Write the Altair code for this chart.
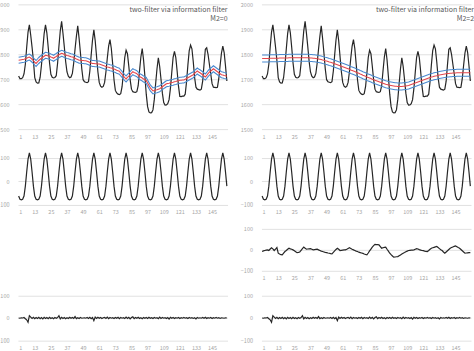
import altair as alt
import pandas as pd

# ---------------- data ----------------
x_labels = [1, 13, 25, 37, 49, 61, 73, 85, 97, 109, 121, 133, 145]
t = list(range(1, 157))

observed = [
    1713, 1702, 1702, 1706, 1721, 1760, 1828, 1889, 1918, 1876, 1828, 1775,
    1706, 1689, 1684, 1685, 1707, 1757, 1822, 1883, 1918, 1886, 1829, 1766,
    1720, 1708, 1705, 1707, 1714, 1764, 1832, 1894, 1932, 1884, 1830, 1771,
    1729, 1712, 1706, 1709, 1723, 1765, 1821, 1872, 1914, 1864, 1806, 1742,
    1698, 1690, 1688, 1686, 1690, 1732, 1797, 1857, 1898, 1854, 1791, 1730,
    1687, 1672, 1668, 1671, 1687, 1730, 1784, 1833, 1859, 1823, 1762, 1698,
    1655, 1645, 1640, 1638, 1642, 1670, 1725, 1787, 1816, 1802, 1753, 1698,
    1660, 1650, 1648, 1647, 1650, 1674, 1734, 1789, 1823, 1777, 1711, 1640,
    1590, 1569, 1565, 1566, 1577, 1619, 1683, 1742, 1786, 1751, 1699, 1644,
    1606, 1596, 1597, 1602, 1618, 1663, 1728, 1788, 1812, 1787, 1732, 1672,
    1631, 1630, 1632, 1632, 1640, 1690, 1757, 1815, 1837, 1822, 1770, 1707,
    1668, 1660, 1658, 1656, 1660, 1692, 1759, 1820, 1826, 1800, 1760, 1722,
    1682, 1668, 1667, 1666, 1668, 1702, 1756, 1805, 1833, 1807, 1753, 1693,
]

seasonal = [
    -62, -76, -78, -76, -62, -20, 40, 95, 122, 95, 40, -20,
    -62, -76, -78, -76, -62, -20, 40, 95, 122, 95, 40, -20,
    -62, -76, -78, -76, -62, -20, 40, 95, 122, 95, 40, -20,
    -62, -76, -78, -76, -62, -20, 40, 95, 122, 95, 40, -20,
    -62, -76, -78, -76, -62, -20, 40, 95, 122, 95, 40, -20,
    -62, -76, -78, -76, -62, -20, 40, 95, 122, 95, 40, -20,
    -62, -76, -78, -76, -62, -20, 40, 95, 122, 95, 40, -20,
    -62, -76, -78, -76, -62, -20, 40, 95, 122, 95, 40, -20,
    -62, -76, -78, -76, -62, -20, 40, 95, 122, 95, 40, -20,
    -62, -76, -78, -76, -62, -20, 40, 95, 122, 95, 40, -20,
    -62, -76, -78, -76, -62, -20, 40, 95, 122, 95, 40, -20,
    -62, -76, -78, -76, -62, -20, 40, 95, 122, 95, 40, -20,
    -62, -76, -78, -76, -62, -20, 40, 95, 122, 95, 40, -20,
]

trend_m2_0 = [
    1776, 1777, 1778, 1779, 1780, 1782, 1784, 1787, 1789, 1785, 1780, 1774,
    1768, 1763, 1769, 1775, 1780, 1784, 1788, 1792, 1796, 1795, 1793, 1792,
    1789, 1787, 1784, 1788, 1791, 1795, 1798, 1801, 1804, 1802, 1799, 1797,
    1795, 1794, 1792, 1790, 1789, 1787, 1784, 1781, 1779, 1776, 1776, 1775,
    1775, 1774, 1774, 1772, 1770, 1767, 1765, 1763, 1763, 1762, 1762, 1761,
    1761, 1759, 1757, 1755, 1753, 1751, 1749, 1748, 1746, 1745, 1743, 1741,
    1739, 1736, 1734, 1732, 1725, 1719, 1712, 1706, 1701, 1707, 1712, 1718,
    1724, 1730, 1727, 1725, 1722, 1716, 1711, 1708, 1705, 1701, 1698, 1695,
    1685, 1675, 1665, 1659, 1653, 1655, 1657, 1658, 1660, 1662, 1666, 1670,
    1674, 1678, 1682, 1683, 1684, 1686, 1687, 1688, 1690, 1691, 1693, 1694,
    1696, 1696, 1697, 1697, 1700, 1703, 1706, 1709, 1712, 1715, 1718, 1723,
    1728, 1733, 1729, 1726, 1722, 1718, 1713, 1709, 1715, 1722, 1728, 1733,
    1737, 1742, 1738, 1734, 1730, 1726, 1722, 1718, 1717, 1715, 1714, 1712,
]
band_m2_0 = 12

trend_m2_2 = [
    1783, 1783, 1783, 1783, 1783, 1783, 1784, 1784, 1784, 1784, 1784, 1784,
    1784, 1785, 1785, 1785, 1785, 1785, 1785, 1785, 1786, 1786, 1786, 1786,
    1786, 1786, 1786, 1786, 1786, 1786, 1786, 1786, 1786, 1786, 1786, 1786,
    1785, 1785, 1784, 1784, 1783, 1782, 1781, 1780, 1779, 1777, 1776, 1774,
    1773, 1771, 1769, 1768, 1766, 1764, 1762, 1760, 1758, 1756, 1754, 1752,
    1750, 1748, 1746, 1744, 1742, 1740, 1737, 1735, 1733, 1731, 1728, 1726,
    1724, 1721, 1719, 1716, 1714, 1712, 1709, 1707, 1705, 1703, 1700, 1698,
    1696, 1694, 1692, 1690, 1688, 1686, 1684, 1682, 1680, 1679, 1677, 1676,
    1675, 1674, 1673, 1672, 1672, 1671, 1671, 1671, 1671, 1672, 1672, 1673,
    1674, 1675, 1677, 1679, 1681, 1683, 1685, 1687, 1689, 1691, 1693, 1695,
    1697, 1699, 1701, 1703, 1705, 1707, 1709, 1710, 1712, 1713, 1714, 1716,
    1717, 1718, 1719, 1720, 1721, 1722, 1723, 1723, 1724, 1724, 1725, 1725,
    1725, 1726, 1726, 1726, 1726, 1726, 1726, 1726, 1726, 1726, 1726, 1726,
]
band_m2_2 = 14

irregular_m2_2 = [
    -8, -5, -3, -1, 0, -3, 4, 10, 5, -3, 4, 11,
    -16, -20, -23, -24, -16, -8, -3, 3, 8, 5, 3, 0,
    -4, -9, -13, -12, -10, -2, 6, 13, 8, 3, 4, 5,
    6, 3, 0, 1, 2, 3, 0, -3, -6, -8, -10, -12,
    -13, -15, -16, -18, -19, -12, -5, 2, 8, 3, -3, -2,
    -1, 0, 0, 3, 7, 10, 7, 3, 0, -3, -6, -8,
    -11, -13, -15, -17, -20, -22, -24, -15, -5, 4, 13, 20,
    26, 25, 25, 24, 16, 8, 10, 12, 13, 3, -6, -16,
    -23, -29, -35, -34, -33, -32, -28, -24, -20, -16, -13, -9,
    -6, -3, -2, -1, -1, 0, 3, 6, 4, 1, -1, -3,
    -4, -6, -7, -8, -3, 3, 8, 10, 12, 14, 16, 11,
    6, 1, -3, -10, -16, -10, -4, 2, 8, 11, 14, 17,
    19, 15, 11, 8, 2, -4, -10, -16, -15, -14, -13, -13,
]

residual = [
    0, -1, 1, 0, 2, -3, -8, -19, 10, 4, -2, 3,
    -3, 2, -2, 3, -3, 2, -4, 3, -2, 2, -3, 3,
    -2, 1, -3, 2, -1, 2, 10, -4, 3, -2, 2, -3,
    1, -2, 3, -1, 2, -2, 6, -3, 1, -2, 2, -1,
    0, 1, -1, 2, -2, 3, -3, 2, -12, 4, -2, 3,
    -1, 2, -2, 1, 3, -2, 4, -3, 2, -1, 1, -2,
    2, -1, 3, -3, 2, -1, 1, -2, 4, -2, 3, -4,
    2, 5, -3, 2, -1, 3, -2, 1, -3, 2, -1, 2,
    -2, 3, -1, 1, -2, 2, -1, 1, -3, 4, -2, 2,
    -1, 1, -2, 2, -5, 3, -1, 2, -2, 1, -1, 2,
    -2, 1, -1, 2, -1, 1, -2, 2, -1, 1, -2, 1,
    -4, 2, -1, 1, -1, 2, -1, 3, -2, 1, -1, 2,
    -2, 1, -1, 2, -1, 1, -2, 1, 0, -1, 1, 0,
]

title_line1 = "two-filter via information filter"
title_left = "M2=0"
title_right = "M2=2"

top_ticks = [1500, 1600, 1700, 1800, 1900, 2000]
small_ticks = [-100, 0, 100]

# ---------------- styling ----------------
FONT = "Noto Sans CJK JP"
LABEL_COLOR = "#a6a6a6"
GRID_COLOR = "#d9d9d9"
BLACK = "#262626"
BLUE = "#4a8ad0"
RED = "#e5464c"
W = 210
LFS = 5.5


def x_enc():
    return alt.X(
        "t:Q",
        scale=alt.Scale(domain=[0.5, 156.5], nice=False, zero=False),
        axis=alt.Axis(values=x_labels, grid=False, ticks=False, domain=False,
                      labelFontSize=LFS, labelColor=LABEL_COLOR, labelPadding=5,
                      labelFont=FONT, title=None, format="d", labelOverlap=False),
    )


def y_enc(domain, ticks):
    return alt.Y(
        "v:Q",
        scale=alt.Scale(domain=domain, nice=False, zero=False),
        axis=alt.Axis(values=ticks, grid=True, gridColor=GRID_COLOR, gridWidth=0.8,
                      ticks=False, domain=False, labelFontSize=LFS,
                      labelColor=LABEL_COLOR, labelPadding=9, labelFont=FONT,
                      title=None, format="d", labelOverlap=False),
    )


def top_panel(trend, band, label2, text_dx):
    obs_df = pd.DataFrame({"t": t, "v": observed})
    mid_df = pd.DataFrame({"t": t, "v": trend})
    up_df = pd.DataFrame({"t": t, "v": [v + band for v in trend]})
    lo_df = pd.DataFrame({"t": t, "v": [v - band for v in trend]})
    yd = [1500, 2000]

    def ln(df, color, sw):
        return alt.Chart(df).mark_line(color=color, strokeWidth=sw).encode(
            x=x_enc(), y=y_enc(yd, top_ticks))

    base = ln(obs_df, BLACK, 1.2)
    up = ln(up_df, BLUE, 1.1)
    mid = ln(mid_df, RED, 1.1)
    lo = ln(lo_df, BLUE, 1.1)
    txt1 = alt.Chart(pd.DataFrame({"s": [title_line1]})).mark_text(
        align="right", baseline="middle", fontSize=7, font=FONT, color="#595959",
        dx=text_dx).encode(text="s:N", x=alt.value(W), y=alt.value(6))
    txt2 = alt.Chart(pd.DataFrame({"s": [label2]})).mark_text(
        align="right", baseline="middle", fontSize=7, font=FONT, color="#595959",
        dx=text_dx).encode(text="s:N", x=alt.value(W), y=alt.value(15))
    return alt.layer(base, up, mid, lo, txt1, txt2).properties(width=W, height=125)


def small_panel(values, h, top):
    df = pd.DataFrame({"t": t, "v": values})
    return alt.Chart(df).mark_line(color=BLACK, strokeWidth=1.2).encode(
        x=x_enc(), y=y_enc([-100, top], small_ticks)).properties(width=W, height=h)


def blank_panel(h):
    df = pd.DataFrame({"t": [1], "v": [0]})
    return alt.Chart(df).mark_point(opacity=0).encode(
        x=alt.X("t:Q", axis=None), y=alt.Y("v:Q", axis=None)).properties(width=W, height=h)


panels = [
    top_panel(trend_m2_0, band_m2_0, title_left, 0),
    top_panel(trend_m2_2, band_m2_2, title_right, 3),
    small_panel(seasonal, 53, 125),
    small_panel(seasonal, 53, 125),
    blank_panel(43),
    small_panel(irregular_m2_2, 43, 105),
    small_panel(residual, 47, 107),
    small_panel(residual, 47, 107),
]

chart = alt.concat(
    *panels, columns=2, spacing={"row": 23, "column": 34}, bounds="flush"
).resolve_scale(x="independent", y="independent").properties(
    padding={"left": -4, "top": 2, "right": 0, "bottom": 0},
    background="white",
).configure_view(stroke=None)

chart.save("out.html", embed_options={"renderer": "svg", "actions": False})
